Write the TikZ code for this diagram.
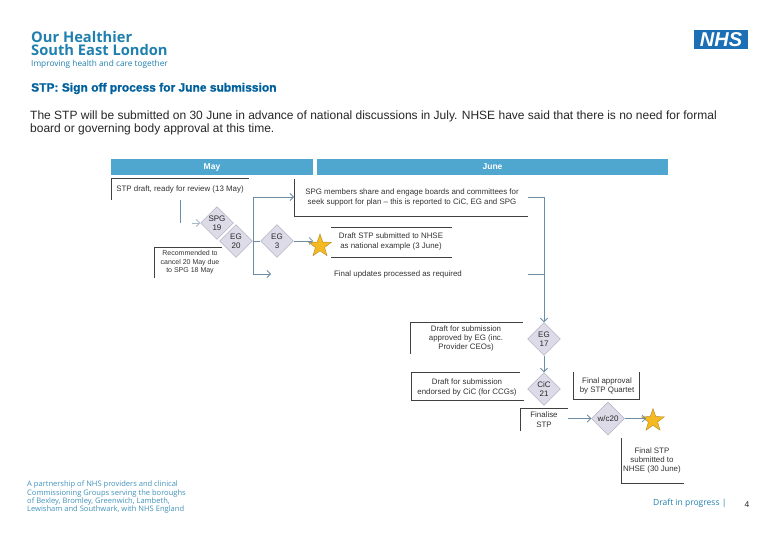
\documentclass[tikz,border=0pt]{standalone}
\usepackage{fontspec}
\usepackage{xcolor}
\setmainfont{Liberation Sans}
\newfontfamily\logofont{Open Sans}
\newfontfamily\headfont[BoldFeatures={FakeBold=1.3}]{Liberation Sans}
\usetikzlibrary{shapes.geometric,arrows.meta}
\definecolor{barblue}{HTML}{4FA6CF}
\definecolor{linkblue}{HTML}{6C8CA6}
\definecolor{logoblue}{HTML}{1F7FAE}
\definecolor{headblue}{HTML}{00609C}
\definecolor{nhsblue}{HTML}{1C6FB4}
\definecolor{gatefill}{HTML}{DEDBE9}
\definecolor{gateline}{HTML}{A5A3B4}
\definecolor{starfill}{HTML}{F5B921}
\definecolor{starline}{HTML}{B08A2A}
\begin{document}
\begin{tikzpicture}[x=1pt,y=-1pt,
  bar/.style={fill=barblue,draw=none,text=white,inner sep=0,minimum height=16pt,font=\bfseries\fontsize{8.5}{10}\selectfont},
  boxline/.style={draw=black!75,line width=0.6pt},
  label/.style={inner sep=0,align=center,text=black!80,font=\fontsize{7.9}{9.4}\selectfont},
  gate/.style={diamond,draw=gateline,fill=gatefill,inner sep=0,minimum width=33pt,minimum height=33pt,align=center,text=black!85,font=\fontsize{8}{9.4}\selectfont},
  goal/.style={star,star points=5,star point ratio=2.5,draw=starline,fill=starfill,inner sep=0,minimum size=24pt},
  link/.style={draw=linkblue,line width=0.8pt},
  head/.style={-{Straight Barb[length=3.5pt,width=7pt]}},
  logotext/.style={inner sep=0,anchor=west,text=logoblue}]
  \useasboundingbox (0,0) rectangle (780,540);
  % header
  \node[logotext,align=left,font=\logofont\bfseries\fontsize{14.7}{13.5}\selectfont] (logo) at (31,43.5) {Our Healthier\\South East London};
  \node[logotext,font=\logofont\fontsize{8.3}{9}\selectfont] (strapline) at (31,64) {Improving health and care together};
  \node[fill=nhsblue,text=white,inner sep=0,minimum width=54pt,minimum height=19pt,font=\bfseries\itshape\fontsize{20}{20}\selectfont] (nhs) at (721,39.5) {NHS};
  \node[inner sep=0,anchor=west,text=headblue,font=\headfont\bfseries\fontsize{12}{13}\selectfont] (title) at (31,88.5) {STP: Sign off process for June submission};
  \node[inner sep=0,anchor=west,align=left,text=black!85,font=\fontsize{12}{13}\selectfont] (intro) at (30,122.5) {The STP will be submitted on 30 June in advance of national discussions in July. NHSE have said that there is no need for formal\\board or governing body approval at this time.};
  % month bars
  \node[bar,minimum width=202pt] (may) at (212,167) {May};
  \node[bar,minimum width=351pt] (june) at (492.5,167) {June};
  % May side
  \coordinate (draftTL) at (111,178);
  \coordinate (draftTR) at (249,178);
  \coordinate (draftBL) at (111,200);
  \draw[boxline] (draftBL)--(draftTL)--(draftTR);
  \node[label] (draft) at (180,189) {STP draft, ready for review (13 May)};
  \coordinate (draftD) at (180,200);
  \coordinate (draftE) at (180,223);
  \coordinate (spgIn) at (192,223);
  \node[gate] (spg19) at (217,223) {SPG\\19};
  \node[gate] (eg20) at (236,241) {EG\\20};
  \node[gate] (eg3) at (277,241) {EG\\3};
  \node[goal] (stara) at (320,246) {};
  \coordinate (recTL) at (154,247);
  \coordinate (recTR) at (222,247);
  \coordinate (recBL) at (154,278);
  \draw[boxline] (recBL)--(recTL)--(recTR);
  \node[label,font=\fontsize{7}{8.6}\selectfont] (rec) at (190,262.5) {Recommended to\\cancel 20 May due\\to SPG 18 May};
  % June side
  \coordinate (membersTL) at (294,179);
  \coordinate (membersBL) at (294,216);
  \coordinate (membersBR) at (528,216);
  \draw[boxline] (membersTL)--(membersBL)--(membersBR);
  \node[label] (members) at (412,197.5) {SPG members share and engage boards and committees for\\seek support for plan -- this is reported to CiC, EG and SPG};
  \coordinate (nhseTL) at (331,227);
  \coordinate (nhseTR) at (452,227);
  \coordinate (nhseBL) at (331,257);
  \coordinate (nhseBR) at (452,257);
  \draw[boxline] (nhseTL)--(nhseTR);
  \draw[boxline] (nhseBL)--(nhseBR);
  \node[label] (nhse) at (391,241.5) {Draft STP submitted to NHSE\\as national example (3 June)};
  \node[label] (updates) at (398,274) {Final updates processed as required};
  \node[gate] (eg17) at (544,339) {EG\\17};
  \node[gate] (cic21) at (544,389) {CiC\\21};
  \node[gate] (wc20) at (608,418.5) {w/c20};
  \node[goal] (starb) at (653,420.5) {};
  \coordinate (subTL) at (410,322);
  \coordinate (subTR) at (523,322);
  \coordinate (subBL) at (410,354);
  \draw[boxline] (subBL)--(subTL)--(subTR);
  \node[label] (sub) at (466,338.5) {Draft for submission\\approved by EG (inc.\\Provider CEOs)};
  \coordinate (endTL) at (411,372);
  \coordinate (endTR) at (520,372);
  \coordinate (endBL) at (411,400);
  \coordinate (endBR) at (524,400);
  \draw[boxline] (endTR)--(endTL)--(endBL)--(endBR);
  \node[label] (end) at (467,387.5) {Draft for submission\\endorsed by CiC (for CCGs)};
  \coordinate (apprTL) at (573,372);
  \coordinate (apprBL) at (573,399);
  \coordinate (apprBR) at (639,399);
  \coordinate (apprTR) at (639,372);
  \draw[boxline] (apprTL)--(apprBL)--(apprBR)--(apprTR);
  \node[label] (appr) at (607,386) {Final approval\\by STP Quartet};
  \coordinate (finTL) at (520,408);
  \coordinate (finTR) at (568,408);
  \coordinate (finBL) at (520,431);
  \draw[boxline] (finBL)--(finTL)--(finTR);
  \node[label] (fin) at (544,419.5) {Finalise\\STP};
  \coordinate (stpBL) at (621,483);
  \coordinate (stpTL) at (621,438);
  \coordinate (stpBR) at (684,483);
  \draw[boxline] (stpTL)--(stpBL)--(stpBR);
  \node[label] (stp) at (652,460.5) {Final STP\\submitted to\\NHSE (30 June)};
  % connectors
  \draw[link] (draftD)--(draftE);
  \draw[link,head,draw=linkblue!60] (spgIn)--(spg19.west);
  \coordinate (splitT) at (253,197);
  \coordinate (splitB) at (253,274);
  \coordinate (membersL) at (294,197);
  \coordinate (updatesL) at (271,274);
  \draw[link] (splitT)--(splitB);
  \draw[link,head] (splitT)--(membersL);
  \draw[link,head] (splitB)--(updatesL);
  \draw[link] (eg20.east)--(eg3.west);
  \draw[link,head] (eg3.east)--(eg3.east -| stara.west);
  \coordinate (membersR) at (528,197);
  \coordinate (turnT) at (544,197);
  \coordinate (updatesR) at (528,274);
  \coordinate (turnM) at (544,274);
  \draw[link,head] (membersR)--(turnT)--(eg17.north);
  \draw[link] (updatesR)--(turnM);
  \draw[link,head] (eg17.south)--(cic21.north);
  \coordinate (finR) at (568,418.5);
  \draw[link,head] (finR)--(wc20.west);
  \draw[link,head] (wc20.east)--(wc20.east -| starb.west);
  % footer
  \node[inner sep=0,anchor=north west,align=left,text=logoblue!85,font=\logofont\fontsize{7.55}{8.3}\selectfont] (partner) at (27,481) {A partnership of NHS providers and clinical\\Commissioning Groups serving the boroughs\\of Bexley, Bromley, Greenwich, Lambeth,\\Lewisham and Southwark, with NHS England};
  \node[inner sep=0,anchor=west,text=logoblue,font=\logofont\fontsize{8.5}{10}\selectfont] (progress) at (653,503) {Draft in progress |};
  \node[inner sep=0,text=black!85,font=\fontsize{8.5}{10}\selectfont] (page) at (747,505) {4};
\end{tikzpicture}
\end{document}
